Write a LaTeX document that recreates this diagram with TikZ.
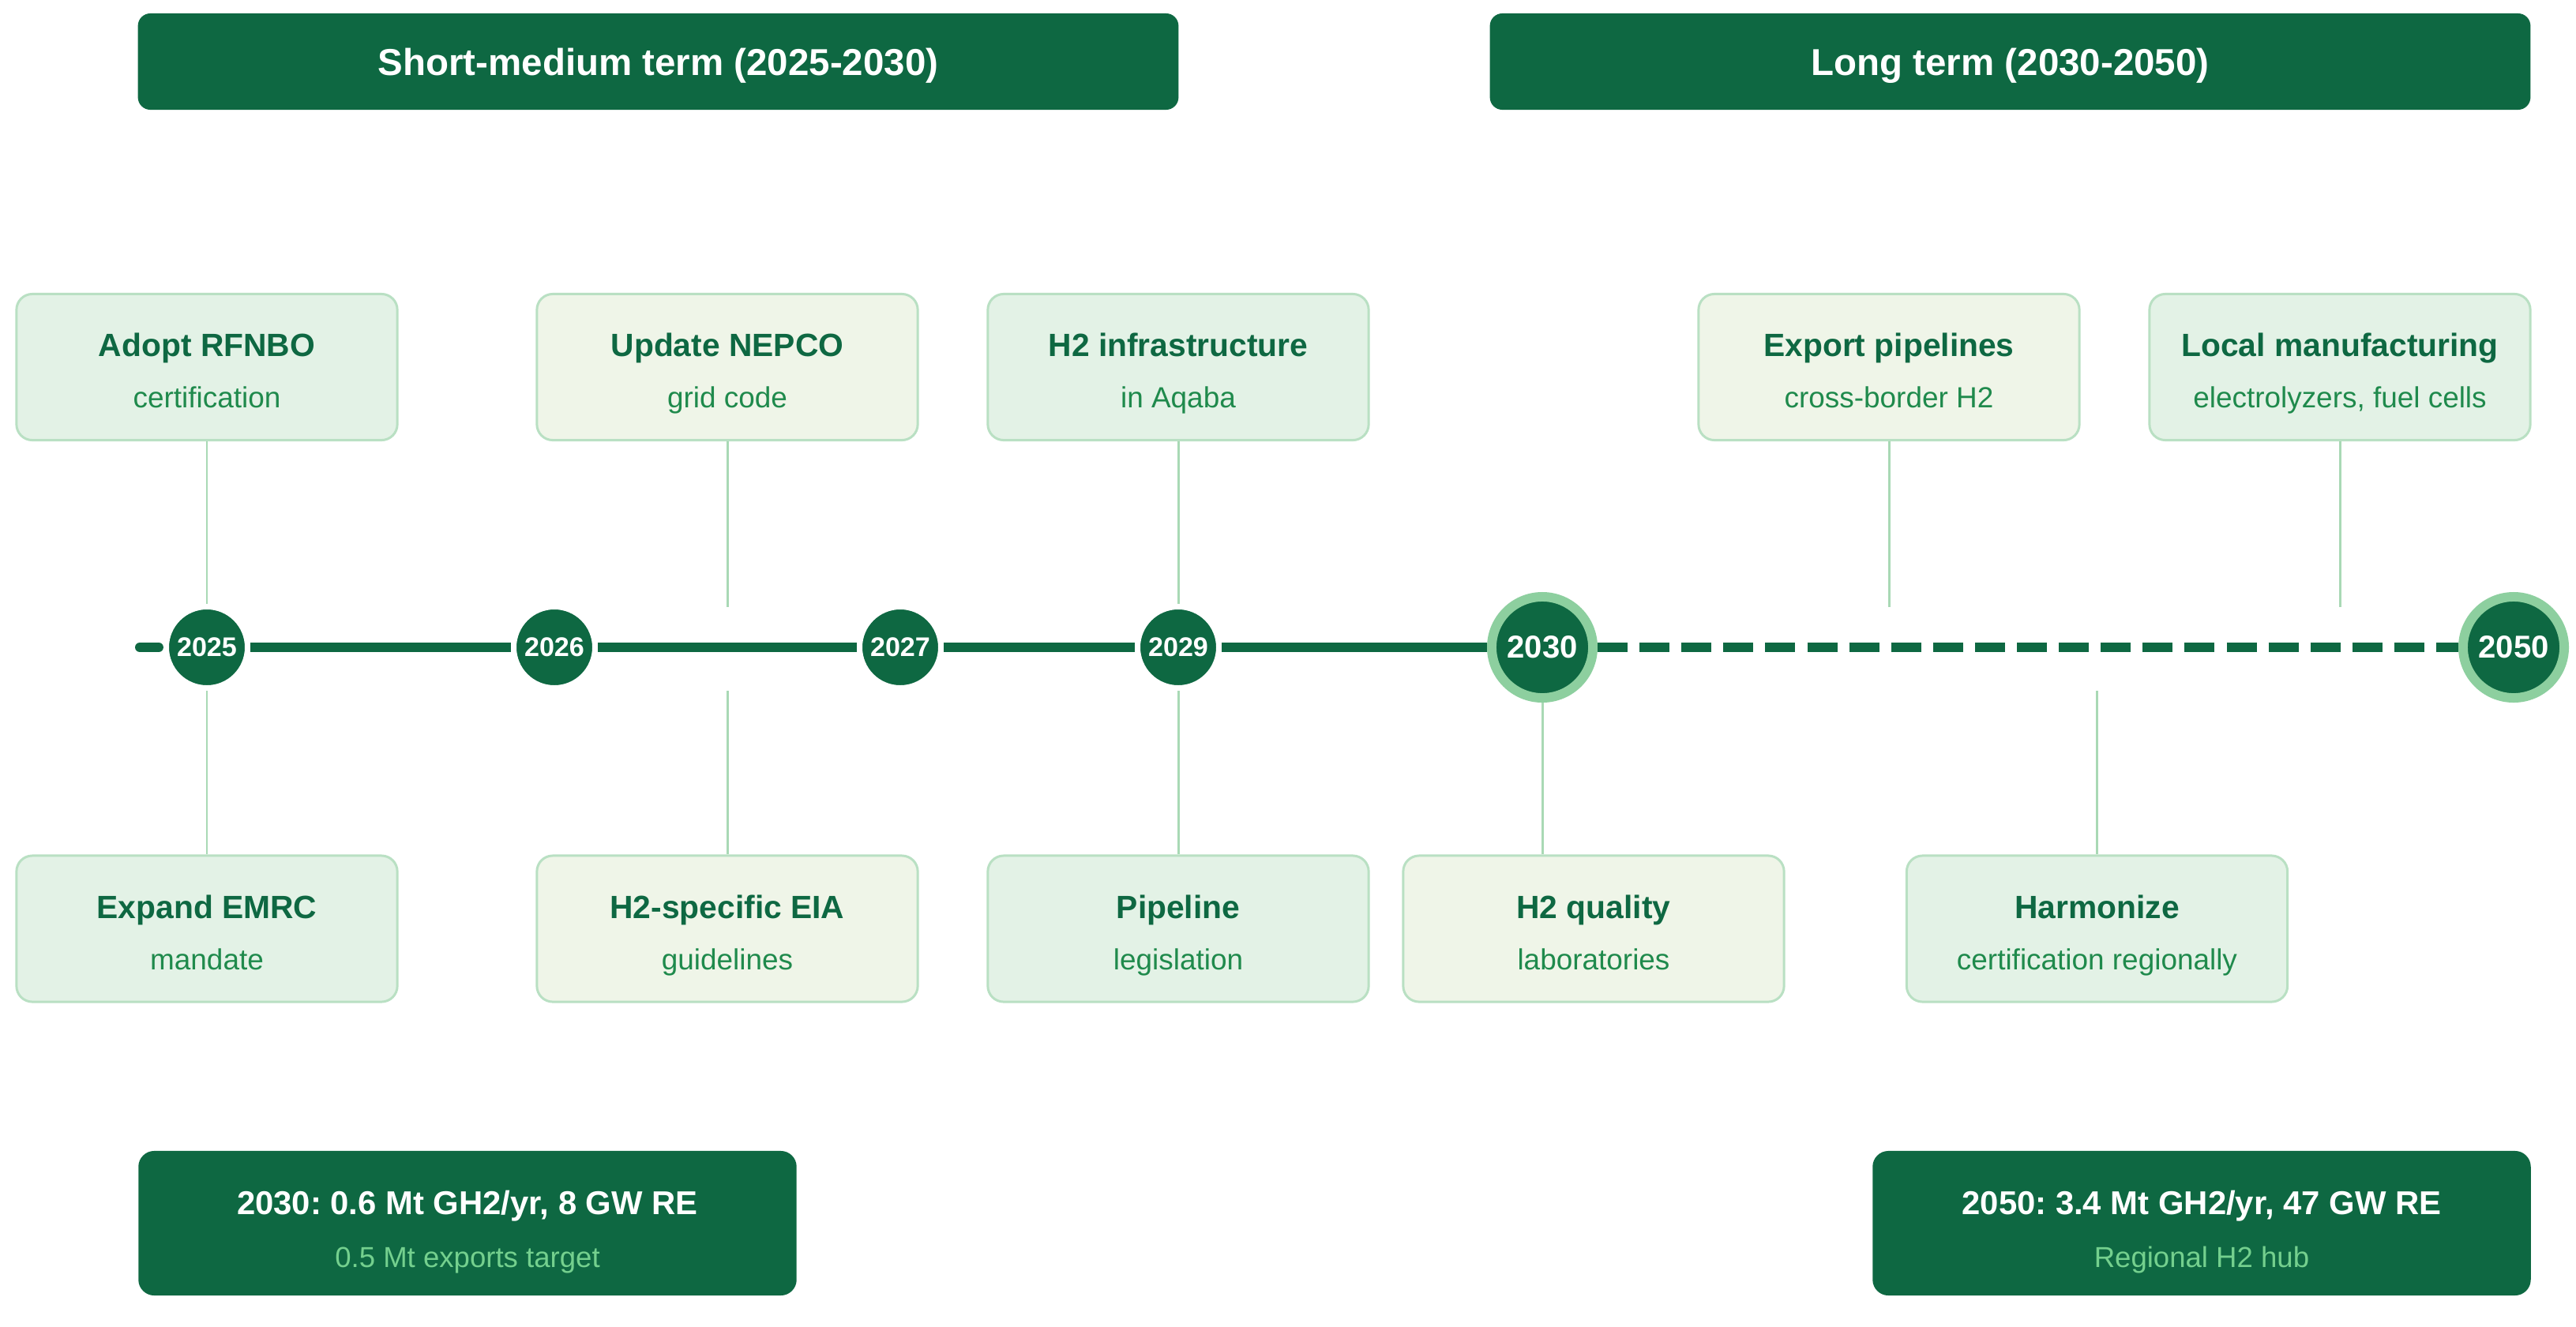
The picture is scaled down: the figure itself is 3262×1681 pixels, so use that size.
\documentclass[tikz,border=0pt]{standalone}
\usepackage{fontspec}
\setmainfont{Liberation Sans}
\frenchspacing
\definecolor{dk}{HTML}{0E6842}
\definecolor{mint}{HTML}{E3F2E6}
\definecolor{cream}{HTML}{EFF5E8}
\definecolor{bord}{HTML}{B9E0C3}
\definecolor{subc}{HTML}{1F8A4C}
\definecolor{conn}{HTML}{A9D9B5}
\definecolor{ringc}{HTML}{8DCF9F}
\definecolor{lite}{HTML}{74D08E}
\begin{document}
\begin{tikzpicture}[x=0.01cm,y=-0.01cm,
  evbox/.style={draw=bord, line width=0.85pt, rounded corners=5.7pt, minimum width=4.82cm, minimum height=1.85cm, inner sep=0pt},
  mintbox/.style={evbox, fill=mint},
  creambox/.style={evbox, fill=cream},
  ttl/.style={anchor=base, text=dk, font=\fontsize{11.6pt}{13pt}\selectfont\bfseries, inner sep=0pt},
  sbt/.style={anchor=base, text=subc, font=\fontsize{10.5pt}{12pt}\selectfont, inner sep=0pt},
  hdr/.style={fill=dk, rounded corners=4.5pt, minimum height=1.22cm, minimum width=13.17cm, inner sep=0pt},
  hdrtxt/.style={anchor=base, text=white, font=\fontsize{13.5pt}{15pt}\selectfont\bfseries, inner sep=0pt},
  goal/.style={fill=dk, rounded corners=5.7pt, minimum height=1.83cm, minimum width=8.33cm, inner sep=0pt},
  goalttl/.style={anchor=base, text=white, font=\fontsize{11.9pt}{13pt}\selectfont\bfseries, inner sep=0pt},
  goalsub/.style={anchor=base, text=lite, font=\fontsize{10.4pt}{12pt}\selectfont, inner sep=0pt},
  yr/.style={circle, fill=dk, draw=white, line width=2pt, minimum size=1.03cm, inner sep=0pt, text=white, font=\fontsize{9.7pt}{11pt}\selectfont\bfseries},
  bigyr/.style={circle, fill=dk, draw=ringc, line width=3.4pt, minimum size=1.28cm, inner sep=0pt, text=white, font=\fontsize{11.4pt}{13pt}\selectfont\bfseries},
  tline/.style={draw=dk, line width=3.4pt},
  cline/.style={draw=conn, line width=0.85pt}
]
\useasboundingbox[fill=white] (0,0) rectangle (3262,1681);

% headers
\node[hdr] (h1) at (833.5,78) {};
\node[hdrtxt] (h1t) at (833.5,95) {Short-medium term (2025-2030)};
\node[hdr] (h2) at (2545.5,78) {};
\node[hdrtxt] (h2t) at (2545.5,95) {Long term (2030-2050)};

% top boxes
\node[mintbox] (a1) at (262,465) {};
\node[ttl] (a1t) at (262,451) {Adopt RFNBO};
\node[sbt] (a1s) at (262,516) {certification};
\node[creambox] (a2) at (921,465) {};
\node[ttl] (a2t) at (921,451) {Update NEPCO};
\node[sbt] (a2s) at (921,516) {grid code};
\node[mintbox] (a3) at (1492,465) {};
\node[ttl] (a3t) at (1492,451) {H2 infrastructure};
\node[sbt] (a3s) at (1492,516) {in Aqaba};
\node[creambox] (a4) at (2392,465) {};
\node[ttl] (a4t) at (2392,451) {Export pipelines};
\node[sbt] (a4s) at (2392,516) {cross-border H2};
\node[mintbox] (a5) at (2963,465) {};
\node[ttl] (a5t) at (2963,451) {Local manufacturing};
\node[sbt] (a5s) at (2963,516) {electrolyzers, fuel cells};

% bottom boxes
\node[mintbox] (b1) at (262,1176.5) {};
\node[ttl] (b1t) at (262,1163) {Expand EMRC};
\node[sbt] (b1s) at (262,1228) {mandate};
\node[creambox] (b2) at (921,1176.5) {};
\node[ttl] (b2t) at (921,1163) {H2-specific EIA};
\node[sbt] (b2s) at (921,1228) {guidelines};
\node[mintbox] (b3) at (1492,1176.5) {};
\node[ttl] (b3t) at (1492,1163) {Pipeline};
\node[sbt] (b3s) at (1492,1228) {legislation};
\node[creambox] (b4) at (2018,1176.5) {};
\node[ttl] (b4t) at (2018,1163) {H2 quality};
\node[sbt] (b4s) at (2018,1228) {laboratories};
\node[mintbox] (b5) at (2655.5,1176.5) {};
\node[ttl] (b5t) at (2655.5,1163) {Harmonize};
\node[sbt] (b5s) at (2655.5,1228) {certification regionally};

% year markers
\node[yr] (c2025) at (262,820) {2025};
\node[yr] (c2026) at (702,820) {2026};
\node[yr] (c2027) at (1140,820) {2027};
\node[yr] (c2029) at (1492,820) {2029};
\node[bigyr] (c2030) at (1953,820) {2030};
\node[bigyr] (c2050) at (3183,820) {2050};

% timeline
\coordinate (tstart) at (177,820);
\draw[tline, line cap=round] (tstart) -- ([xshift=-0.06cm]c2025.west);
\draw[tline] (c2025.east) -- (c2026.west);
\draw[tline] (c2026.east) -- (c2027.west);
\draw[tline] (c2027.east) -- (c2029.west);
\draw[tline] (c2029.east) -- (c2030.west);
\draw[tline, dash pattern=on 10.8pt off 4.3pt] (c2030.east) -- (c2050.west);

% connectors
\coordinate (up2) at (921,769);
\coordinate (dn2) at (921,875);
\coordinate (up4) at (2392,769);
\coordinate (up5) at (2963,769);
\coordinate (dn5) at (2655.5,875);
\draw[cline] (a1.south) -- (c2025.north);
\draw[cline] (c2025.south) -- (b1.north);
\draw[cline] (a2.south) -- (up2);
\draw[cline] (dn2) -- (b2.north);
\draw[cline] (a3.south) -- (c2029.north);
\draw[cline] (c2029.south) -- (b3.north);
\draw[cline] (c2030.south) -- (c2030.south |- b4.north);
\draw[cline] (a4.south) -- (up4);
\draw[cline] (a5.south) -- (up5);
\draw[cline] (dn5) -- (b5.north);

% goals
\node[goal] (g1) at (592,1549.5) {};
\node[goalttl] (g1t) at (592,1538) {2030: 0.6 Mt GH2/yr, 8 GW RE};
\node[goalsub] (g1s) at (592,1605) {0.5 Mt exports target};
\node[goal] (g2) at (2788,1549.5) {};
\node[goalttl] (g2t) at (2788,1538) {2050: 3.4 Mt GH2/yr, 47 GW RE};
\node[goalsub] (g2s) at (2788,1605) {Regional H2 hub};
\end{tikzpicture}
\end{document}
